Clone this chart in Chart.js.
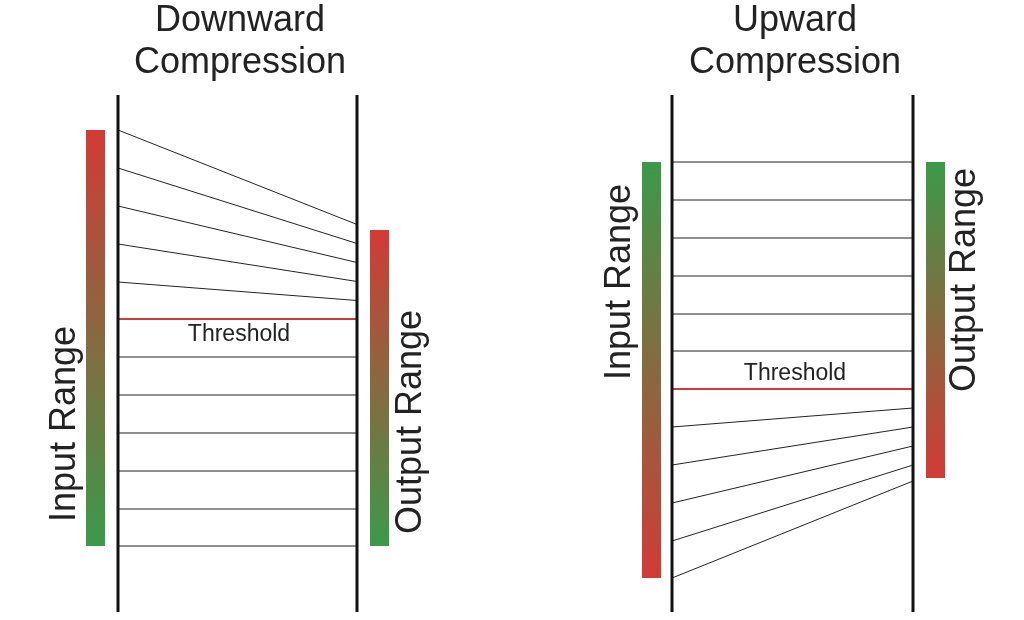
<!DOCTYPE html>
<html><head><meta charset="utf-8">
<script src="https://cdn.jsdelivr.net/npm/chart.js@4/dist/chart.umd.min.js"></script>
<style>html,body{margin:0;padding:0;background:#fff}canvas{display:block}</style>
</head><body>
<canvas id="c" width="1024" height="620"></canvas>
<script>
// Diagram coordinates (pixel-like units on a 1024x620 domain)
const downInput  = [130,168,206,244,282];
const downOutput = [224.5,243.5,262.5,281.5,300.5];
const downBelow  = [357,395,433,471,509,546];
const downThreshold = 319;
const upAbove = [162,200,238,276,314,351];
const upInput  = [427,465,503,541,578];
const upOutput = [408,427,446,465,481];
const upThreshold = 389;
const titles = ["Downward\nCompression","Upward\nCompression"];

const L1=118,R1=357,L2=672,R2=913;
const ds=[];
function seg(x1,y1,x2,y2,color,w){ds.push({data:[{x:x1,y:y1},{x:x2,y:y2}],showLine:true,borderColor:color,borderWidth:w,pointRadius:0,fill:false});}
[L1,R1,L2,R2].forEach(x=>seg(x,95,x,612,'#111',3));
downInput.forEach((y,i)=>seg(L1,y,R1,downOutput[i],'#222',1));
downBelow.forEach(y=>seg(L1,y,R1,y,'#222',1));
seg(L1,downThreshold,R1,downThreshold,'#d23a3a',2);
upAbove.forEach(y=>seg(L2,y,R2,y,'#222',1));
upInput.forEach((y,i)=>seg(L2,y,R2,upOutput[i],'#222',1));
seg(L2,upThreshold,R2,upThreshold,'#d23a3a',2);

const bars=[[86,105,130,546,true],[370,389,230,546,true],[642,661,162,578,false],[926,945,162,478,false]];
const deco={id:'deco',afterDatasetsDraw(ch){
  const c=ch.ctx,X=v=>ch.scales.x.getPixelForValue(v),Y=v=>ch.scales.y.getPixelForValue(v);
  bars.forEach(([x1,x2,y1,y2,redTop])=>{
    const g=c.createLinearGradient(0,Y(y1),0,Y(y2));
    const red='#d33a35',green='#3a9a4a';
    g.addColorStop(0,redTop?red:green);g.addColorStop(1,redTop?green:red);
    c.fillStyle=g;c.fillRect(X(x1),Y(y1),X(x2)-X(x1),Y(y2)-Y(y1));
  });
  c.fillStyle='#222';c.textAlign='center';c.textBaseline='middle';
  c.font='36px "Liberation Sans", Arial, sans-serif';
  [[240,titles[0]],[795,titles[1]]].forEach(([x,t])=>{t.split('\n').forEach((s,i)=>c.fillText(s,X(x),Y(21+i*42)));});
  c.font='23px "Liberation Sans", Arial, sans-serif';
  c.fillText('Threshold',X(239),Y(335));c.fillText('Threshold',X(795),Y(374));
  c.font='36px "Liberation Sans", Arial, sans-serif';
  [[65,424,'Input Range'],[411,422,'Output Range'],[620,282,'Input Range'],[965,280,'Output Range']].forEach(([x,y,t])=>{
    c.save();c.translate(X(x),Y(y));c.rotate(-Math.PI/2);c.fillText(t,0,0);c.restore();});
}};
new Chart(document.getElementById('c'),{type:'scatter',data:{datasets:ds},
 options:{responsive:false,animation:false,layout:{padding:0},
  plugins:{legend:{display:false},tooltip:{enabled:false}},
  scales:{x:{type:'linear',min:0,max:1024,display:false},y:{type:'linear',min:0,max:620,reverse:true,display:false}}},
 plugins:[deco]});
</script>
</body></html>
